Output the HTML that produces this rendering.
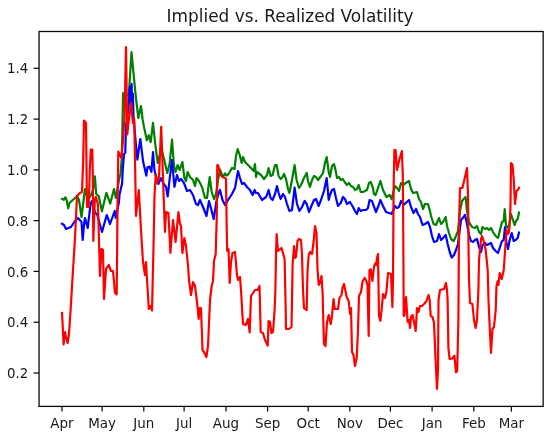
<!DOCTYPE html>
<html><head><meta charset="utf-8"><title>Implied vs. Realized Volatility</title>
<style>
html,body{margin:0;padding:0;background:#fff;}
svg{display:block;}
text{font-family:"DejaVu Sans","Liberation Sans",sans-serif;fill:#1a1a1a;}
.tk{font-size:14.4px;}
.tt{font-size:16.9px;}
</style></head><body>
<svg width="550" height="434" viewBox="0 0 550 434">
<rect width="550" height="434" fill="#fff"/>
<clipPath id="c"><rect x="39.04" y="31.5" width="504.11" height="374.90"/></clipPath>
<g clip-path="url(#c)">
<polyline points="62.0,198.9 63.7,199.8 65.0,197.7 65.6,197.3 66.7,200.5 68.2,208.3 69.5,203.0 77.1,196.0 79.0,200.0 81.5,217.0 85.0,189.0 88.0,200.0 91.0,195.0 93.0,190.0 94.9,176.3 96.2,194.0 98.7,196.0 101.9,211.3 106.4,192.8 110.2,203.6 114.0,189.0 115.9,197.9 119.5,177.0 120.4,175.0 121.8,158.0 123.1,93.0 124.2,95.0 128.8,95.0 131.5,52.2 135.5,93.8 138.3,118.0 141.0,106.0 142.7,120.0 144.0,127.0 146.9,140.3 148.8,135.2 150.7,142.2 153.0,122.8 155.2,143.5 157.7,163.0 160.0,154.0 162.0,151.0 163.8,158.0 167.2,173.0 169.6,164.0 172.0,139.6 174.0,166.0 175.6,172.0 177.6,165.0 179.6,170.0 182.4,162.0 184.4,178.0 186.0,181.0 187.6,172.0 190.0,177.0 193.0,180.0 195.0,186.0 196.5,178.0 199.0,181.0 202.0,187.0 205.0,198.0 207.0,198.0 209.7,177.0 211.7,192.0 214.0,199.0 216.0,194.0 218.0,180.0 220.0,169.5 222.0,175.0 223.5,176.0 225.0,173.5 226.5,175.5 228.0,174.5 230.0,171.5 232.0,168.0 234.5,169.0 236.0,156.0 237.7,149.0 240.0,156.0 241.7,163.0 243.0,157.0 245.0,162.0 248.0,165.0 251.0,168.0 253.7,171.0 255.0,164.0 256.0,177.0 257.0,172.0 261.0,175.0 264.0,179.0 267.0,175.0 268.6,168.0 270.6,176.0 272.6,175.0 275.0,165.0 276.6,165.0 278.6,176.0 280.6,179.0 282.6,177.0 284.0,174.0 286.0,179.0 288.0,189.0 289.4,193.0 292.0,180.0 294.6,165.0 296.6,180.0 299.0,188.0 301.0,185.0 304.0,178.0 306.7,173.0 308.0,181.0 310.0,187.0 312.0,180.0 314.0,176.0 316.0,177.0 318.0,180.0 321.0,176.0 323.0,173.0 325.0,163.0 326.7,157.0 328.7,172.0 330.0,177.0 332.0,166.0 334.0,164.0 335.5,170.0 337.0,178.0 339.0,177.0 340.7,180.0 342.7,179.0 344.7,182.0 347.0,185.0 349.0,183.0 351.0,186.0 353.0,187.0 355.0,190.0 357.0,189.0 358.7,185.0 360.7,192.0 363.0,192.0 365.0,191.0 367.0,190.0 369.0,183.0 370.7,182.0 372.7,187.0 374.0,194.0 375.6,195.0 378.0,188.0 380.4,181.0 383.0,190.0 386.4,197.0 389.6,195.0 391.6,199.0 395.0,186.0 397.0,188.0 399.0,191.0 401.0,183.0 403.0,185.0 405.7,183.0 409.0,181.0 411.0,189.0 413.0,193.0 417.0,192.0 419.0,199.0 421.0,202.0 423.0,209.0 425.0,204.0 428.0,204.0 430.0,211.0 431.0,216.0 433.6,224.0 436.0,225.0 439.0,218.0 441.0,224.0 443.0,222.0 445.7,217.0 447.0,226.0 449.0,233.0 451.0,239.0 453.7,241.0 456.0,236.0 458.0,231.0 460.0,211.0 462.0,201.0 463.6,199.0 465.6,197.0 467.0,211.0 469.0,222.0 472.0,227.0 475.0,228.0 477.0,226.0 479.0,232.0 481.0,234.0 482.5,227.0 485.0,229.0 487.0,228.0 489.0,230.0 491.0,228.0 493.0,232.0 495.7,236.0 498.0,238.0 500.0,230.0 502.0,222.0 503.7,221.0 504.7,209.0 506.0,225.0 507.7,228.0 509.0,226.0 511.0,214.0 513.0,220.0 514.5,225.0 516.0,221.0 517.7,219.0 519.0,212.5" fill="none" stroke="#008000" stroke-width="2.2" stroke-linejoin="round" stroke-linecap="square"/>
<polyline points="62.0,223.7 64.0,225.0 66.0,229.0 68.6,228.0 71.0,227.0 75.0,221.0 78.0,218.0 81.5,222.0 82.7,240.0 84.0,225.0 85.0,218.0 87.7,228.0 90.7,203.0 92.0,201.0 95.0,213.0 97.0,214.0 102.0,232.0 106.7,215.0 110.0,224.0 114.7,211.0 115.7,218.0 119.0,202.0 119.5,194.7 122.1,183.3 122.7,170.5 124.0,154.0 125.3,152.7 125.9,127.0 128.8,104.0 129.8,87.0 130.5,103.0 131.2,86.0 131.6,83.9 132.0,102.0 132.9,93.8 133.5,115.5 135.5,140.0 137.4,159.7 140.3,139.0 143.1,161.6 146.3,175.6 147.5,167.4 149.5,166.7 151.4,171.8 153.0,152.0 154.5,170.5 156.5,178.2 158.4,183.9 160.9,178.2 163.8,184.0 166.0,187.0 167.7,196.5 170.0,176.0 172.0,160.0 174.4,187.0 177.0,175.0 179.0,181.0 181.0,179.0 184.0,183.0 187.0,191.0 190.0,190.0 193.0,195.0 196.0,204.0 198.0,205.0 200.0,200.0 203.0,207.0 206.5,216.0 209.0,201.0 211.7,211.0 213.7,219.0 216.5,201.0 218.0,195.0 220.0,190.0 222.5,200.0 225.0,205.0 228.0,200.0 232.0,194.0 235.0,188.0 238.0,171.0 240.0,178.0 242.0,184.0 244.0,183.0 247.0,187.0 250.0,190.0 252.6,195.0 254.6,190.0 256.0,193.0 258.0,193.0 262.0,200.0 266.0,197.0 267.0,195.0 268.6,190.0 270.6,198.0 272.6,200.0 275.0,194.0 277.0,186.0 278.6,193.0 280.6,199.0 283.0,194.0 285.0,197.0 287.0,204.0 289.4,211.0 292.0,210.0 294.6,187.7 297.0,204.0 299.4,211.0 302.0,207.0 304.6,201.0 306.7,204.0 309.0,212.0 311.4,206.0 314.0,200.0 316.0,199.0 318.6,206.0 321.0,200.0 324.0,191.0 326.7,178.0 328.7,200.0 330.0,195.0 332.0,190.0 334.0,189.0 336.0,198.0 338.0,206.0 340.7,203.0 343.0,197.0 345.0,199.0 347.0,204.0 350.0,202.0 353.0,207.0 355.0,211.0 357.0,214.0 358.7,208.0 360.7,211.0 363.0,210.0 366.0,210.0 368.0,208.0 369.6,200.0 372.0,201.0 373.0,204.0 376.0,212.0 378.4,206.0 380.4,200.0 383.0,206.0 386.0,212.0 389.0,213.0 391.6,214.0 395.0,206.0 397.0,208.0 399.0,207.0 401.0,201.0 403.6,205.0 405.7,203.0 409.0,200.0 411.0,207.0 413.6,213.0 416.0,209.0 418.0,214.0 420.0,217.0 422.5,225.0 425.0,224.0 428.0,222.0 430.0,227.0 432.0,236.0 434.0,242.0 437.0,241.0 439.0,234.0 441.0,240.0 443.0,238.0 445.7,235.0 447.7,244.0 449.7,252.0 451.7,257.5 454.0,255.0 456.0,250.0 458.0,244.0 461.0,220.0 463.6,217.0 465.0,215.0 467.0,224.0 469.0,235.0 471.0,241.0 473.0,242.0 475.0,240.0 477.0,239.0 479.0,247.0 481.0,252.0 482.5,245.0 485.0,243.0 487.0,245.0 489.0,244.0 491.0,243.0 493.0,248.0 495.7,251.0 498.0,253.0 500.0,247.0 502.0,241.0 503.7,240.0 505.0,227.0 506.5,243.0 508.0,249.0 509.7,240.0 511.7,233.0 513.7,241.0 515.7,240.0 517.7,238.0 519.0,232.5" fill="none" stroke="#0000ff" stroke-width="2.2" stroke-linejoin="round" stroke-linecap="square"/>
<polyline points="62.0,313.0 62.6,324.0 63.6,344.5 65.0,332.0 66.0,337.0 67.6,343.0 69.0,334.0 70.6,310.0 73.0,270.0 75.0,238.0 77.0,196.0 80.0,193.0 82.0,192.0 83.2,160.0 84.0,120.5 86.0,123.0 86.5,165.0 87.0,207.0 88.7,207.0 89.8,170.0 90.8,149.5 92.3,149.5 92.8,175.0 93.3,241.0 94.8,200.0 96.0,197.0 98.0,205.0 100.0,276.0 101.5,249.0 103.0,250.0 104.0,299.0 106.0,269.0 108.7,265.0 111.0,271.0 113.0,271.0 115.0,293.0 116.7,294.4 117.6,200.0 118.3,151.5 120.0,155.0 121.5,158.0 123.0,140.0 124.5,117.0 126.0,47.0 127.3,134.5 128.6,122.0 131.0,102.7 132.9,123.0 134.2,119.3 135.0,160.0 136.0,216.0 138.8,190.0 141.0,230.0 143.0,262.0 145.0,275.0 146.0,262.0 148.8,309.0 150.6,306.0 152.0,310.5 153.5,247.0 154.5,195.0 155.8,174.4 157.1,183.3 159.0,177.0 161.2,126.9 162.8,171.8 163.6,195.0 165.0,232.0 166.0,212.0 168.4,213.0 170.4,253.0 173.0,220.0 175.6,242.0 178.4,212.0 180.0,224.0 181.0,226.0 182.4,253.0 184.4,238.0 186.0,246.0 188.0,265.0 189.0,280.0 191.0,295.0 193.0,282.0 195.0,286.0 197.0,302.0 198.7,319.0 199.7,308.0 201.0,308.0 202.5,350.0 204.0,352.0 206.4,357.0 208.0,346.0 210.0,300.0 211.7,286.0 213.0,281.0 214.0,261.0 215.7,254.0 216.8,215.0 217.3,165.0 218.2,165.5 219.7,171.5 221.0,175.5 222.5,177.0 225.0,178.0 226.0,178.8 226.3,200.0 226.7,228.0 227.2,251.0 228.5,249.0 229.7,283.0 231.0,262.0 232.5,253.0 235.0,252.0 237.0,275.0 238.0,280.0 240.0,277.0 241.0,290.0 243.0,324.0 245.7,325.0 248.0,319.0 249.7,332.4 251.0,296.0 253.0,293.0 255.0,290.0 257.7,290.0 259.5,286.0 260.7,332.0 263.0,333.0 265.0,340.0 267.7,345.6 268.6,321.0 270.0,322.0 271.4,333.0 273.0,332.0 274.6,310.0 275.4,290.0 276.0,255.0 276.6,234.0 278.0,251.0 281.4,248.0 283.0,253.0 284.6,259.0 285.5,300.0 286.0,329.0 289.0,329.0 291.5,327.0 292.2,290.0 292.6,265.0 294.0,246.0 295.0,258.0 296.0,257.0 297.5,241.0 299.0,239.0 301.0,240.0 302.0,255.0 303.0,290.0 304.0,308.0 306.7,310.0 307.5,271.0 308.7,255.0 310.0,252.0 312.0,254.0 313.7,241.0 315.0,226.0 316.5,233.0 317.5,269.0 318.7,285.0 320.0,283.0 321.5,276.0 322.7,295.0 323.0,310.0 324.0,344.0 325.5,346.0 327.0,322.0 328.7,315.0 330.7,324.0 332.0,316.0 333.5,299.0 334.7,309.0 338.0,309.0 339.5,298.0 341.5,295.0 342.7,287.0 344.0,284.0 345.0,289.0 346.7,297.0 348.7,301.0 350.0,314.0 351.0,308.0 352.0,352.0 353.5,355.0 355.0,366.0 356.7,358.0 358.0,330.0 359.0,296.0 361.0,292.0 362.7,281.0 364.7,278.0 366.0,280.0 367.5,285.0 368.7,336.0 369.5,270.0 370.8,269.3 372.4,281.0 374.0,266.6 375.3,263.3 376.2,265.0 377.0,258.0 378.0,254.0 379.0,316.0 380.4,321.0 382.0,306.0 383.0,294.0 385.0,298.0 386.4,292.0 388.0,273.0 391.0,274.0 392.4,307.0 393.0,280.0 393.6,187.0 394.4,150.0 395.6,150.0 397.0,170.0 399.5,159.0 401.9,151.0 402.8,175.0 403.2,222.0 403.7,316.0 404.5,315.0 406.0,297.0 407.7,322.0 409.0,320.0 410.0,328.0 411.0,317.0 412.5,315.0 414.0,322.0 415.7,331.0 417.0,308.0 418.5,312.0 420.0,306.0 422.0,306.0 424.0,304.0 426.5,301.0 428.5,295.0 429.7,300.0 430.7,316.0 432.5,317.0 434.0,323.0 435.6,360.0 437.0,389.0 438.0,370.0 438.5,300.0 440.0,290.0 444.0,289.0 446.0,283.0 447.0,290.0 447.6,300.0 448.4,348.0 449.6,359.0 452.4,358.5 454.4,355.7 456.0,372.4 457.2,371.0 458.4,320.0 459.0,225.0 460.0,188.0 462.4,188.0 465.0,177.0 467.0,168.0 468.0,195.0 468.5,245.0 469.0,280.0 470.0,303.0 472.4,304.0 474.0,320.0 475.6,328.0 477.0,320.0 478.4,290.0 479.0,260.0 481.0,239.0 482.0,236.0 484.0,242.0 485.7,250.0 487.7,270.0 488.5,300.0 489.7,327.0 491.0,353.0 492.5,329.0 494.0,327.0 495.7,310.0 496.5,286.0 497.7,281.0 498.5,285.0 499.7,273.0 501.7,279.0 503.7,270.0 505.0,252.0 506.5,230.0 508.0,234.0 509.0,232.0 510.0,220.0 510.5,205.0 511.0,163.0 512.5,165.0 513.7,179.0 515.0,204.0 516.5,191.0 517.7,190.0 519.0,187.8" fill="none" stroke="#ff0000" stroke-width="2.2" stroke-linejoin="round" stroke-linecap="square"/>
</g>
<rect x="39.04" y="31.5" width="504.11" height="374.90" fill="none" stroke="#0a0a0a" stroke-width="1.3"/>
<g stroke="#0a0a0a" stroke-width="1.25">
<line x1="62.0" y1="406.4" x2="62.0" y2="411.6"/><line x1="102.1" y1="406.4" x2="102.1" y2="411.6"/><line x1="143.8" y1="406.4" x2="143.8" y2="411.6"/><line x1="184.1" y1="406.4" x2="184.1" y2="411.6"/><line x1="226.0" y1="406.4" x2="226.0" y2="411.6"/><line x1="267.6" y1="406.4" x2="267.6" y2="411.6"/><line x1="308.2" y1="406.4" x2="308.2" y2="411.6"/><line x1="349.8" y1="406.4" x2="349.8" y2="411.6"/><line x1="390.4" y1="406.4" x2="390.4" y2="411.6"/><line x1="432.1" y1="406.4" x2="432.1" y2="411.6"/><line x1="473.8" y1="406.4" x2="473.8" y2="411.6"/><line x1="511.4" y1="406.4" x2="511.4" y2="411.6"/>
<line x1="39.04" y1="373.0" x2="33.6" y2="373.0"/><line x1="39.04" y1="322.2" x2="33.6" y2="322.2"/><line x1="39.04" y1="271.4" x2="33.6" y2="271.4"/><line x1="39.04" y1="220.6" x2="33.6" y2="220.6"/><line x1="39.04" y1="169.9" x2="33.6" y2="169.9"/><line x1="39.04" y1="119.1" x2="33.6" y2="119.1"/><line x1="39.04" y1="68.3" x2="33.6" y2="68.3"/>
</g>
<g class="tk" text-anchor="middle">
<text transform="translate(62.0,427.7) scale(0.935,1)">Apr</text><text transform="translate(102.1,427.7) scale(0.935,1)">May</text><text transform="translate(143.8,427.7) scale(0.935,1)">Jun</text><text transform="translate(184.1,427.7) scale(0.935,1)">Jul</text><text transform="translate(226.0,427.7) scale(0.935,1)">Aug</text><text transform="translate(267.6,427.7) scale(0.935,1)">Sep</text><text transform="translate(308.2,427.7) scale(0.935,1)">Oct</text><text transform="translate(349.8,427.7) scale(0.935,1)">Nov</text><text transform="translate(390.4,427.7) scale(0.935,1)">Dec</text><text transform="translate(432.1,427.7) scale(0.935,1)">Jan</text><text transform="translate(473.8,427.7) scale(0.935,1)">Feb</text><text transform="translate(511.4,427.7) scale(0.935,1)">Mar</text>
</g>
<g class="tk" text-anchor="end">
<text transform="translate(28.2,378.1) scale(0.93,1)">0.2</text><text transform="translate(28.2,327.3) scale(0.93,1)">0.4</text><text transform="translate(28.2,276.5) scale(0.93,1)">0.6</text><text transform="translate(28.2,225.7) scale(0.93,1)">0.8</text><text transform="translate(28.2,175.0) scale(0.93,1)">1.0</text><text transform="translate(28.2,124.2) scale(0.93,1)">1.2</text><text transform="translate(28.2,73.4) scale(0.93,1)">1.4</text>
</g>
<text class="tt" text-anchor="middle" x="290.1" y="21.8">Implied vs. Realized Volatility</text>
</svg>
</body></html>
